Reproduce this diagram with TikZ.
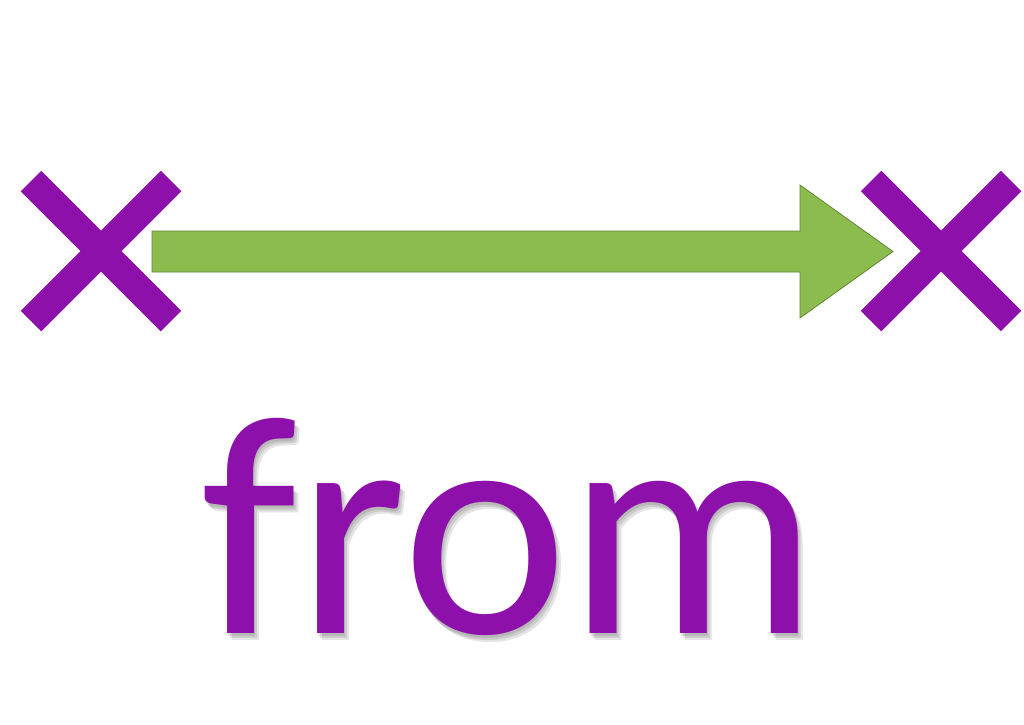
\documentclass[tikz,border=0pt]{standalone}
\usepackage{fontspec}
\setmainfont{Carlito}
\definecolor{xpurple}{RGB}{142,16,170}
\definecolor{agreen}{RGB}{140,187,78}
\definecolor{agreenline}{RGB}{100,135,55}
\tikzset{
  crossarm/.style={fill=xpurple},
  blockarrow/.style={fill=agreen,draw=agreenline,line width=0.8pt,line join=miter},
  wordshadow/.style={anchor=base,inner sep=0pt,text=black,opacity=0.1},
}
\newcommand{\bigword}{\fontsize{314}{314}\selectfont from}
\begin{document}
\begin{tikzpicture}[x=1pt,y=-1pt]
\useasboundingbox (0,0) rectangle (1024,724);
\fill[white] (0,0) rectangle (1024,724);
\coordinate (xl) at (101,251);
\coordinate (xr) at (941,251);
% crosses
\foreach \c in {xl,xr}{
  \begin{scope}[shift={(\c)}]
    \fill[crossarm,rotate=45] (-99,-14.5) rectangle (99,14.5);
    \fill[crossarm,rotate=-45] (-99,-14.5) rectangle (99,14.5);
  \end{scope}
}
% block arrow
\draw[blockarrow] (152,231) -- (800,231) -- (800,185) -- (893,251.5) -- (800,318) -- (800,272) -- (152,272) -- cycle;
% word with soft shadow
\node[wordshadow] (fromshadowa) at (511,636) {\bigword};
\node[wordshadow] (fromshadowb) at (513,638) {\bigword};
\node[wordshadow] (fromshadowc) at (515,640) {\bigword};
\node[anchor=base,inner sep=0pt,text=xpurple] (fromword) at (510,633) {\bigword};
\end{tikzpicture}
\end{document}
